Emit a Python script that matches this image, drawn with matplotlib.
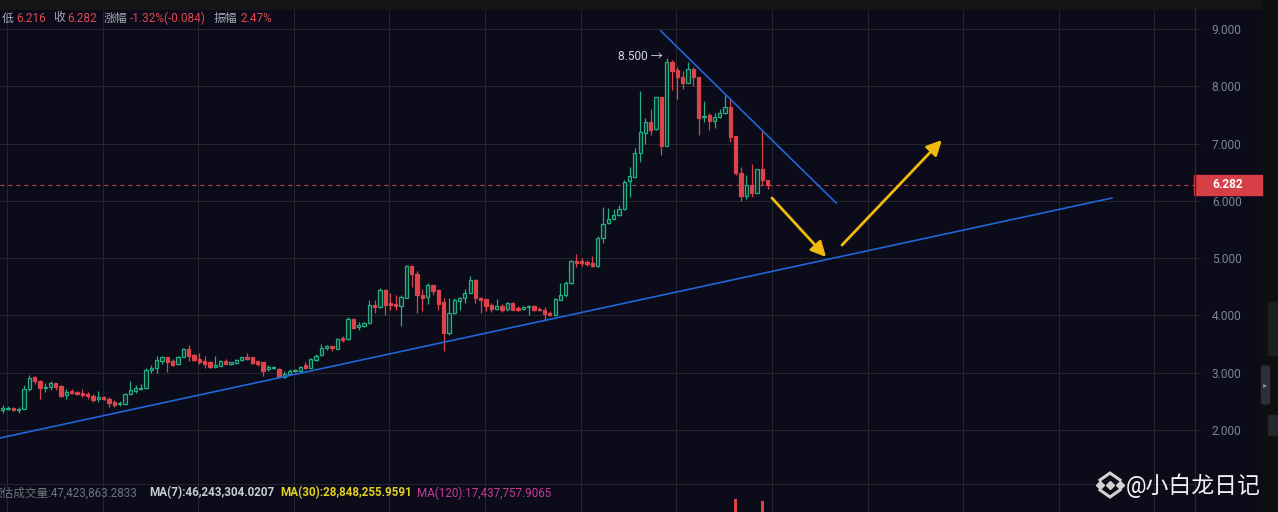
import numpy as np
import matplotlib.pyplot as plt
from matplotlib.patches import Rectangle, FancyBboxPatch
from matplotlib.lines import Line2D

plt.rcParams['font.family'] = ['Roboto', 'Noto Sans CJK SC', 'DejaVu Sans']

# 4h candles, oldest -> newest
opens = [2.35, 2.37, 2.39, 2.35, 2.37, 2.72, 2.92, 2.86, 2.73, 2.75, 2.82, 2.77, 2.61, 2.69, 2.67, 2.65,
         2.63, 2.60, 2.54, 2.58, 2.55, 2.49, 2.45, 2.45, 2.63, 2.68, 2.72, 2.74, 3.05, 3.08, 3.21, 3.27,
         3.20, 3.15, 3.28, 3.42, 3.31, 3.24, 3.21, 3.18, 3.10, 3.12, 3.21, 3.15, 3.17, 3.22, 3.28, 3.27,
         3.20, 3.18, 3.07, 3.08, 3.07, 2.92, 2.98, 3.04, 3.03, 3.13, 3.09, 3.22, 3.31, 3.43, 3.46, 3.42,
         3.61, 3.59, 3.94, 3.80, 3.82, 3.87, 4.18, 4.15, 4.45, 4.21, 4.20, 4.17, 4.31, 4.86, 4.72, 4.36,
         4.32, 4.53, 4.45, 4.23, 3.70, 4.04, 4.26, 4.30, 4.40, 4.62, 4.30, 4.28, 4.18, 4.12, 4.17, 4.11,
         4.22, 4.13, 4.11, 4.15, 4.16, 4.11, 4.10, 4.05, 4.01, 4.27, 4.35, 4.56, 4.95, 4.95, 4.94, 4.92,
         4.86, 5.36, 5.61, 5.68, 5.76, 5.86, 6.34, 6.42, 6.83, 7.19, 7.38, 7.25, 7.81, 6.96, 8.42, 8.28,
         8.17, 8.06, 8.31, 8.16, 7.46, 7.50, 7.40, 7.46, 7.53, 7.63, 7.13, 6.48, 6.09, 6.27, 6.14, 6.55,
         6.366]
highs = [2.44, 2.42, 2.40, 2.40, 2.78, 2.96, 2.95, 2.88, 2.83, 2.85, 2.83, 2.79, 2.71, 2.72, 2.69, 2.72,
         2.67, 2.63, 2.68, 2.59, 2.57, 2.53, 2.51, 2.64, 2.86, 2.78, 2.81, 3.09, 3.14, 3.30, 3.30, 3.28,
         3.24, 3.30, 3.43, 3.49, 3.33, 3.35, 3.29, 3.20, 3.30, 3.22, 3.24, 3.19, 3.24, 3.28, 3.34, 3.28,
         3.21, 3.19, 3.14, 3.12, 3.08, 3.03, 3.06, 3.07, 3.12, 3.18, 3.25, 3.33, 3.50, 3.48, 3.47, 3.60,
         3.65, 3.98, 3.95, 3.89, 3.89, 4.27, 4.27, 4.48, 4.47, 4.39, 4.36, 4.36, 4.89, 4.89, 4.78, 4.47,
         4.56, 4.54, 4.46, 4.30, 4.30, 4.30, 4.33, 4.47, 4.69, 4.63, 4.33, 4.29, 4.21, 4.28, 4.20, 4.24,
         4.23, 4.17, 4.16, 4.18, 4.18, 4.14, 4.14, 4.08, 4.30, 4.56, 4.60, 4.97, 5.07, 5.00, 4.96, 5.04,
         5.38, 5.90, 5.88, 5.85, 5.92, 6.36, 6.60, 6.92, 7.92, 7.44, 7.60, 7.82, 7.82, 8.50, 8.46, 8.34,
         8.26, 8.43, 8.34, 8.17, 7.74, 7.54, 7.53, 7.60, 7.85, 7.79, 7.13, 6.60, 6.45, 6.64, 6.56, 7.23,
         6.373]
lows = [2.30, 2.35, 2.34, 2.30, 2.36, 2.68, 2.80, 2.54, 2.66, 2.70, 2.70, 2.58, 2.55, 2.63, 2.61, 2.58,
        2.55, 2.49, 2.49, 2.53, 2.40, 2.40, 2.42, 2.44, 2.61, 2.64, 2.70, 2.72, 3.00, 3.00, 3.16, 3.02,
        3.11, 3.14, 3.27, 3.20, 3.21, 3.16, 3.08, 3.08, 3.09, 3.11, 3.15, 3.14, 3.16, 3.21, 3.22, 3.15,
        3.12, 2.95, 3.03, 3.06, 2.91, 2.91, 2.96, 3.02, 3.02, 3.07, 3.08, 3.20, 3.30, 3.40, 3.38, 3.41,
        3.54, 3.57, 3.76, 3.75, 3.80, 3.85, 4.04, 4.13, 4.01, 4.10, 4.10, 3.82, 4.30, 4.50, 4.04, 4.07,
        4.20, 4.36, 4.10, 3.38, 3.66, 4.02, 4.10, 4.22, 4.39, 4.21, 4.05, 4.07, 4.06, 4.10, 4.06, 4.08,
        4.09, 4.08, 4.10, 4.01, 4.07, 4.07, 3.91, 3.99, 3.99, 4.27, 4.33, 4.55, 4.85, 4.86, 4.86, 4.85,
        4.85, 5.26, 5.59, 5.66, 5.74, 5.84, 6.07, 6.40, 6.68, 7.00, 7.15, 7.24, 6.80, 6.96, 7.94, 7.77,
        7.96, 8.05, 8.01, 7.15, 7.38, 7.23, 7.28, 7.44, 7.52, 7.03, 6.45, 6.00, 6.04, 6.07, 6.13, 6.27,
        6.216]
closes = [2.39, 2.39, 2.35, 2.37, 2.72, 2.91, 2.85, 2.73, 2.76, 2.82, 2.76, 2.60, 2.66, 2.65, 2.63, 2.62,
          2.59, 2.52, 2.58, 2.54, 2.48, 2.44, 2.48, 2.63, 2.70, 2.73, 2.74, 3.05, 3.09, 3.23, 3.27, 3.18,
          3.14, 3.28, 3.41, 3.30, 3.23, 3.18, 3.15, 3.10, 3.14, 3.21, 3.16, 3.18, 3.23, 3.27, 3.24, 3.17,
          3.16, 3.04, 3.10, 3.10, 2.92, 2.98, 3.04, 3.05, 3.10, 3.09, 3.24, 3.30, 3.43, 3.46, 3.43, 3.59,
          3.57, 3.94, 3.79, 3.83, 3.87, 4.18, 4.15, 4.45, 4.18, 4.18, 4.17, 4.32, 4.86, 4.72, 4.35, 4.31,
          4.53, 4.43, 4.20, 3.70, 4.04, 4.27, 4.30, 4.40, 4.62, 4.30, 4.27, 4.17, 4.11, 4.16, 4.10, 4.21,
          4.10, 4.10, 4.14, 4.16, 4.10, 4.09, 4.03, 4.01, 4.28, 4.36, 4.56, 4.95, 4.92, 4.92, 4.90, 4.86,
          5.36, 5.60, 5.68, 5.76, 5.86, 6.33, 6.43, 6.83, 7.20, 7.38, 7.24, 7.81, 6.96, 8.42, 8.27, 8.16,
          8.06, 8.31, 8.16, 7.45, 7.49, 7.40, 7.46, 7.54, 7.63, 7.12, 6.48, 6.09, 6.27, 6.14, 6.55, 6.366,
          6.282]

# volume (millions) of the last candles, only the tallest reach into view
vol_start = 130
volumes = [20, 35, 18, 15, 12, 14, 22, 40, 52, 45, 30, 28, 33, 51, 16]

price_ticks = [2, 3, 4, 5, 6, 7, 8, 9]
last_price = 6.282
peak_idx, peak_price = 125, 8.50

# drawn lines: (candle index, price)
trend_up = ([-0.51, 208.8], [1.862, 6.050])
trend_down = ([123.9, 156.9], [8.965, 5.963])
arrow_down = ((144.8, 6.051), (155.0, 5.021))
arrow_up = ((158.0, 5.229), (176.8, 7.063))

header = [('低', 1.5, 'lab'), ('6.216', 16.5, 'val'), ('收', 53, 'lab'), ('6.282', 67.5, 'val'),
          ('涨幅', 104, 'lab'), ('-1.32%(-0.084)', 130, 'val'), ('振幅', 213.5, 'lab'), ('2.47%', 240.5, 'val')]
vol_texts = [('预估成交量:47,423,863.2833', -9.5, '#70747e', 'normal'),
             ('MA(7):46,243,304.0207', 149, '#c9ccd3', 'bold'),
             ('MA(30):28,848,255.9591', 280, '#e3d020', 'bold'),
             ('MA(120):17,437,757.9065', 417, '#c63d9a', 'normal')]

bg = '#0b0b19'
grid_c = '#25252d'
green = '#22b084'
green_face = '#0d2826'
red = '#dc434b'

W, H = 1278, 512
fig = plt.figure(figsize=(W / 100, H / 100), dpi=100, facecolor=bg)


def fx(px):
    return px / W


def fy(py):
    return 1 - py / H


xlim = (-0.508, 224.45)
grid_x = np.arange(0.81, 224, 18.0)

ax = fig.add_axes([0, fy(484), fx(1195), fy(9) - fy(484)])
ax.set_facecolor(bg)
ax.set_xlim(*xlim)
ax.set_ylim(1.0593, 9.349)
for s in ax.spines.values():
    s.set_visible(False)
ax.set_xticks(grid_x)
ax.set_yticks(price_ticks)
ax.set_yticklabels([f'{v:.3f}' for v in price_ticks])
ax.yaxis.tick_right()
ax.tick_params(axis='x', length=0, labelbottom=False)
ax.tick_params(axis='y', length=3.6, width=0.75, color=grid_c, pad=8.5,
               labelsize=8.6, labelcolor='#7b8497')
ax.grid(True, color=grid_c, lw=0.75)
ax.set_axisbelow(True)

o = np.array(opens)
h = np.array(highs)
l = np.array(lows)
c = np.array(closes)
x = np.arange(len(c))
up = c >= o
edge = np.where(up, green, red)
face = np.where(up, green_face, red)

ax.vlines(x, l, h, colors=edge, lw=0.9, zorder=3)
ax.bar(x, np.maximum(np.abs(c - o), 0.012), bottom=np.minimum(o, c), width=0.62,
       color=face, edgecolor=edge, linewidth=0.9, zorder=4)

ax.axhline(last_price, color='#c5464e', lw=0.8, ls=(0, (3.6, 3.6)), zorder=2)

ax.plot(*trend_up, color='#2066d8', lw=1.2, zorder=5)
ax.plot(*trend_down, color='#2066d8', lw=1.2, zorder=5)
for start, end in (arrow_down, arrow_up):
    ax.annotate('', xy=end, xytext=start, zorder=6,
                arrowprops=dict(arrowstyle='-|>,head_length=0.6,head_width=0.3',
                                color='#f0b90b', lw=2, mutation_scale=15,
                                shrinkA=0, shrinkB=0))

ax.text(peak_idx - 0.7, peak_price + 0.017, f'{peak_price:.3f} →', ha='right', va='center',
        fontsize=8.6, color='#d5d9e2', zorder=6)

# volume pane, mostly below the picture
vax = fig.add_axes([0, fy(600), fx(1195), fy(484) - fy(600)])
vax.set_facecolor('none')
vax.set_xlim(*xlim)
vax.set_ylim(0, 60)
for s in vax.spines.values():
    s.set_visible(False)
vax.set_xticks(grid_x)
vax.set_yticks([])
vax.tick_params(axis='x', length=0, labelbottom=False)
vax.grid(True, axis='x', color=grid_c, lw=0.75)
vx = np.arange(vol_start, vol_start + len(volumes))
vax.bar(vx, volumes, width=0.62, color=np.where(up[vx], green, red), zorder=3)

# frame pieces
fig.add_artist(Line2D([0, fx(1195)], [fy(484), fy(484)], color=grid_c, lw=0.75))
fig.add_artist(Line2D([fx(1195), fx(1195)], [fy(9), 0], color='#2a2a30', lw=0.9))
fig.add_artist(Rectangle((0, fy(9)), fx(1262), 9 / H, color='#151518'))
fig.add_artist(Rectangle((fx(1262), 0), fx(16), 1, color='#0f0f11'))
fig.add_artist(Rectangle((fx(1268), fy(355)), fx(10), 53 / H, color='#1d1e22'))
fig.add_artist(Rectangle((fx(1268), fy(435)), fx(10), 20 / H, color='#26272c'))
fig.add_artist(FancyBboxPatch((fx(1261.5), fy(404)), fx(8), 38 / H,
                              boxstyle='round,pad=0,rounding_size=0.003', color='#2e3037'))
fig.text(fx(1265.5), fy(385), '▸', ha='center', va='center', fontsize=6,
         color='#8a8d96', family=['DejaVu Sans'])

# last price tag
fig.add_artist(Rectangle((fx(1194), fy(195)), fx(67.5), 20 / H, color='#d63f45'))
fig.text(fx(1227.5), fy(185), f'{last_price:.3f}', ha='center', va='center',
         fontsize=8.6, color='white', fontweight='bold')

for txt, px, kind in header:
    fig.text(fx(px), fy(18), txt, ha='left', va='center', fontsize=8.5,
             color='#a6aab3' if kind == 'lab' else '#e0474f')

for txt, px, col, wt in vol_texts:
    fig.text(fx(px), fy(493), txt, ha='left', va='center', fontsize=8.4,
             color=col, fontweight=wt)

# watermark
logo_c = '#d2d2d2'
fig.add_artist(Line2D([fx(1100), fx(1110), fx(1120)], [fy(480), fy(473), fy(480)],
                      color=logo_c, lw=2.2, solid_joinstyle='miter'))
fig.add_artist(Line2D([fx(1100), fx(1110), fx(1120)], [fy(490), fy(497), fy(490)],
                      color=logo_c, lw=2.2, solid_joinstyle='miter'))
fig.add_artist(Line2D([fx(1100), fx(1110), fx(1120)], [fy(485)] * 3, ls='none',
                      marker='D', markersize=4.2, color=logo_c))
fig.text(fx(1126), fy(486), '@小白龙日记', ha='left', va='center', fontsize=16.5,
         color='#f2f2f2')

fig.savefig('out.png', dpi=100, facecolor=bg)
